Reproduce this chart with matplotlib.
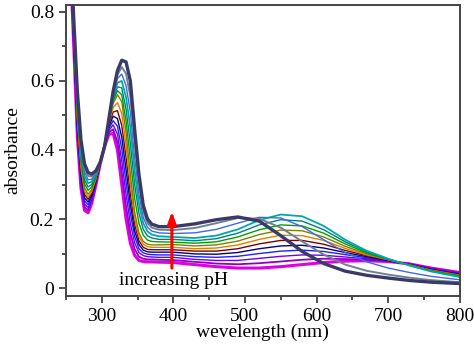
import matplotlib
matplotlib.use("Agg")
import matplotlib.pyplot as plt
from matplotlib.ticker import MultipleLocator, FuncFormatter

plt.rcParams["font.family"] = "serif"
plt.rcParams["font.serif"] = ["Liberation Serif", "DejaVu Serif"]

# wavelength grid (nm) shared by all spectra
wl = [250, 256, 261, 266, 271, 276, 281, 286, 292, 298, 304, 310, 316, 322, 328,
      334, 340, 346, 352, 358, 364, 370, 380, 400, 430, 460, 490, 520, 550, 580,
      610, 640, 670, 700, 730, 760, 800]

# absorbance, lowest pH first
s01 = [1.30, 0.95, 0.70, 0.44, 0.29, 0.225, 0.218, 0.245, 0.30, 0.36, 0.41, 0.445, 0.448, 0.40, 0.30,
       0.20, 0.13, 0.095, 0.08, 0.077, 0.076, 0.076, 0.075, 0.074, 0.068, 0.062, 0.058, 0.058, 0.062, 0.068,
       0.074, 0.078, 0.079, 0.077, 0.070, 0.058, 0.045]
s02 = [1.30, 0.954, 0.706, 0.449, 0.300, 0.234, 0.226, 0.251, 0.303, 0.361, 0.411, 0.451, 0.460, 0.423, 0.334,
       0.236, 0.159, 0.113, 0.091, 0.085, 0.083, 0.083, 0.082, 0.081, 0.076, 0.071, 0.069, 0.072, 0.077, 0.082,
       0.085, 0.084, 0.082, 0.078, 0.070, 0.057, 0.044]
s03 = [1.30, 0.957, 0.711, 0.457, 0.310, 0.244, 0.233, 0.256, 0.306, 0.361, 0.413, 0.456, 0.473, 0.446, 0.369,
       0.272, 0.187, 0.131, 0.103, 0.094, 0.091, 0.090, 0.089, 0.089, 0.083, 0.080, 0.080, 0.086, 0.092, 0.096,
       0.095, 0.090, 0.085, 0.079, 0.069, 0.056, 0.042]
s04 = [1.30, 0.961, 0.717, 0.466, 0.320, 0.253, 0.241, 0.262, 0.309, 0.362, 0.414, 0.462, 0.485, 0.469, 0.403,
       0.307, 0.216, 0.149, 0.114, 0.102, 0.098, 0.097, 0.096, 0.096, 0.091, 0.089, 0.092, 0.100, 0.107, 0.110,
       0.106, 0.097, 0.088, 0.079, 0.069, 0.055, 0.041]
s05 = [1.30, 0.964, 0.723, 0.474, 0.330, 0.262, 0.249, 0.268, 0.311, 0.363, 0.416, 0.468, 0.498, 0.491, 0.437,
       0.343, 0.244, 0.166, 0.126, 0.110, 0.105, 0.104, 0.104, 0.104, 0.099, 0.098, 0.103, 0.114, 0.122, 0.124,
       0.116, 0.103, 0.091, 0.080, 0.068, 0.054, 0.040]
s06 = [1.30, 0.968, 0.729, 0.483, 0.340, 0.271, 0.257, 0.274, 0.314, 0.364, 0.417, 0.474, 0.510, 0.514, 0.471,
       0.379, 0.273, 0.184, 0.137, 0.118, 0.112, 0.111, 0.111, 0.111, 0.107, 0.107, 0.114, 0.128, 0.138, 0.138,
       0.127, 0.109, 0.094, 0.081, 0.068, 0.053, 0.039]
s07 = [1.30, 0.971, 0.734, 0.491, 0.350, 0.281, 0.264, 0.279, 0.317, 0.364, 0.419, 0.479, 0.523, 0.537, 0.506,
       0.414, 0.301, 0.202, 0.149, 0.127, 0.120, 0.118, 0.118, 0.118, 0.114, 0.116, 0.125, 0.141, 0.153, 0.152,
       0.138, 0.115, 0.096, 0.082, 0.067, 0.052, 0.037]
s08 = [1.30, 0.975, 0.74, 0.50, 0.36, 0.29, 0.272, 0.285, 0.32, 0.365, 0.42, 0.485, 0.535, 0.56, 0.54,
       0.45, 0.33, 0.22, 0.16, 0.135, 0.127, 0.125, 0.125, 0.126, 0.122, 0.125, 0.136, 0.155, 0.168, 0.166,
       0.148, 0.121, 0.099, 0.083, 0.067, 0.051, 0.036]
s09 = [1.30, 0.979, 0.747, 0.512, 0.372, 0.302, 0.283, 0.293, 0.323, 0.365, 0.418, 0.486, 0.541, 0.572, 0.560,
       0.484, 0.375, 0.260, 0.188, 0.153, 0.139, 0.135, 0.134, 0.133, 0.130, 0.134, 0.148, 0.169, 0.183, 0.180,
       0.159, 0.128, 0.102, 0.083, 0.066, 0.050, 0.035]
s10 = [1.30, 0.983, 0.753, 0.523, 0.383, 0.313, 0.293, 0.300, 0.327, 0.365, 0.417, 0.487, 0.547, 0.583, 0.580,
       0.518, 0.420, 0.300, 0.217, 0.170, 0.151, 0.145, 0.141, 0.141, 0.137, 0.143, 0.159, 0.183, 0.198, 0.194,
       0.169, 0.134, 0.105, 0.084, 0.066, 0.049, 0.033]
s11 = [1.30, 0.988, 0.76, 0.535, 0.395, 0.325, 0.304, 0.308, 0.330, 0.365, 0.415, 0.488, 0.553, 0.595, 0.600,
       0.553, 0.465, 0.34, 0.245, 0.188, 0.164, 0.155, 0.150, 0.148, 0.145, 0.152, 0.170, 0.197, 0.213, 0.208,
       0.18, 0.14, 0.108, 0.085, 0.065, 0.048, 0.032]
s12 = [1.30, 0.992, 0.767, 0.547, 0.407, 0.337, 0.314, 0.315, 0.333, 0.365, 0.413, 0.488, 0.558, 0.607, 0.620,
       0.587, 0.51, 0.38, 0.273, 0.205, 0.176, 0.165, 0.160, 0.158, 0.16, 0.17, 0.188, 0.205, 0.203, 0.178,
       0.14, 0.103, 0.076, 0.058, 0.045, 0.034, 0.024]
s13 = [1.30, 0.996, 0.773, 0.558, 0.418, 0.348, 0.325, 0.323, 0.337, 0.365, 0.412, 0.489, 0.564, 0.618, 0.640,
       0.621, 0.555, 0.42, 0.302, 0.223, 0.188, 0.175, 0.169, 0.168, 0.174, 0.188, 0.203, 0.201, 0.175, 0.135,
       0.097, 0.068, 0.05, 0.039, 0.03, 0.023, 0.017]
s14 = [1.30, 1.00, 0.78, 0.57, 0.43, 0.36, 0.335, 0.33, 0.34, 0.365, 0.41, 0.49, 0.57, 0.63, 0.66,
       0.655, 0.60, 0.46, 0.33, 0.24, 0.20, 0.185, 0.178, 0.178, 0.186, 0.198, 0.206, 0.194, 0.152, 0.106,
       0.071, 0.049, 0.037, 0.029, 0.022, 0.017, 0.013]

spectra = [s01, s02, s03, s04, s05, s06, s07, s08, s09, s10, s11, s12, s13, s14]
colors = ["#E000E0", "#9000C0", "#6A00FF", "#2020FF", "#000080", "#800000", "#E08000",
          "#808000", "#00A000", "#008080", "#00A8A8", "#4169E1", "#708090", "#3A3A68"]
widths = [2.2, 1.3, 1.0, 1.0, 1.0, 1.0, 1.0, 1.0, 1.0, 1.0, 1.3, 1.0, 1.4, 2.4]

fig = plt.figure(figsize=(4.74, 3.46), dpi=100)
ax = fig.add_axes([0.139, 0.1445, 0.831, 0.841])

for y, c, lw in zip(spectra, colors, widths):
    ax.plot(wl, y, color=c, lw=lw)

ax.set_xlim(250, 800)
ax.set_ylim(-0.023, 0.82)
ax.xaxis.set_major_locator(MultipleLocator(100))
ax.xaxis.set_minor_locator(MultipleLocator(50))
ax.yaxis.set_major_locator(MultipleLocator(0.2))
ax.yaxis.set_minor_locator(MultipleLocator(0.1))
ax.yaxis.set_major_formatter(FuncFormatter(lambda v, p: "0" if abs(v) < 1e-9 else f"{v:.1f}"))
ax.tick_params(which="both", direction="out", top=False, right=False,
               colors="#333333", width=1.2, labelsize=14, labelcolor="black")
ax.tick_params(which="major", length=5)
ax.tick_params(which="minor", length=3)
for sp in ax.spines.values():
    sp.set_linewidth(1.4)
    sp.set_color("#444444")

ax.set_xlabel("wevelength (nm)", fontsize=14, labelpad=-1)
ax.set_ylabel("absorbance", fontsize=14, labelpad=6)

ax.annotate("", xy=(398, 0.222), xytext=(398, 0.058),
            arrowprops=dict(arrowstyle="-|>,head_width=0.25,head_length=0.7",
                            color="red", lw=2.2, shrinkA=0, shrinkB=0))
ax.text(400, 0.022, "increasing pH", ha="center", va="center", fontsize=14)

fig.savefig("out.png", dpi=100)
